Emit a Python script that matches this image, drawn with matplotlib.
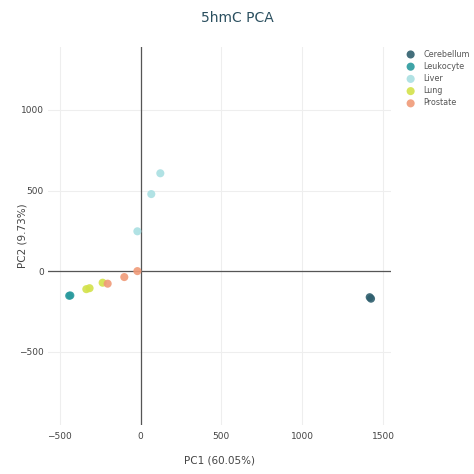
import numpy as np
import matplotlib.pyplot as plt

# === PCA scores ===
groups = ['Cerebellum', 'Leukocyte', 'Liver', 'Lung', 'Prostate']
colors = ['#2f5f6e', '#2a9a9e', '#a9dfe2', '#d3e24a', '#f09a78']

pc1 = {
    'Cerebellum': [1418, 1426],
    'Leukocyte': [-442, -435],
    'Liver': [-20, 66, 122],
    'Lung': [-336, -316, -235],
    'Prostate': [-204, -101, -20],
}
pc2 = {
    'Cerebellum': [-162, -171],
    'Leukocyte': [-153, -151],
    'Liver': [247, 478, 607],
    'Lung': [-112, -106, -72],
    'Prostate': [-78, -37, 0],
}

fig = plt.figure(figsize=(4.74, 4.74), dpi=100)
ax = fig.add_axes([0.101, 0.103, 0.724, 0.798])
ax.set_axisbelow(True)

for g, c in zip(groups, colors):
    ax.scatter(pc1[g], pc2[g], s=34, color=c, alpha=0.9, edgecolors='none',
               label=g, zorder=3)

ax.set_xlim(-574, 1550)
ax.set_ylim(-956, 1391)
ax.set_xticks([-500, 0, 500, 1000, 1500])
ax.set_yticks([-500, 0, 500, 1000])
ax.set_xticklabels(['\u2212500', '0', '500', '1000', '1500'])
ax.set_yticklabels(['\u2212500', '0', '500', '1000'])
ax.grid(True, color='#eeeeee', linewidth=0.8)
ax.axhline(0, color='#555555', linewidth=0.9, zorder=2)
ax.axvline(0, color='#555555', linewidth=0.9, zorder=2)
for s in ax.spines.values():
    s.set_visible(False)
ax.tick_params(length=0, labelsize=6.5, colors='#444444')
ax.tick_params(axis='y', pad=3)
ax.tick_params(axis='x', pad=5)

ax.set_xlabel('PC1 (60.05%)', fontsize=7.5, color='#444444')
ax.set_ylabel('PC2 (9.73%)', fontsize=7.5, color='#444444')
ax.xaxis.set_label_coords(0.5, -0.079)
ax.yaxis.set_label_coords(-0.058, 0.5)
fig.text(0.5, 0.962, '5hmC PCA', ha='center', va='center', fontsize=10,
         color='#2a4f5f')

ax.legend(loc='upper left', bbox_to_anchor=(1.043, 0.993), frameon=False,
          fontsize=5.8, labelcolor='#555555', handletextpad=1.0,
          handlelength=1.2, labelspacing=0.4, borderaxespad=0, borderpad=0)

fig.savefig('out.png', dpi=100)
